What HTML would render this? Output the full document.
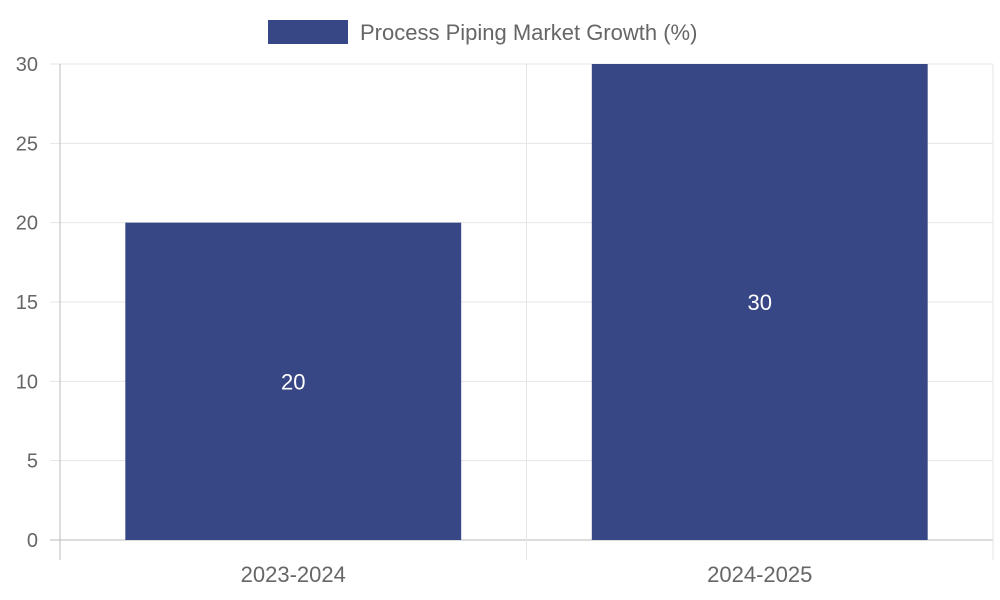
<!DOCTYPE html>
<html><head><meta charset="utf-8"><style>
html,body{margin:0;padding:0;background:#fff;}
svg{display:block;font-family:"Liberation Sans",sans-serif;}
</style></head><body>
<svg id="chart" width="1000" height="600">
<g id="legend">
<rect x="268" y="20" width="80" height="24" fill="#374785"/>
<text x="360" y="40" font-size="22" fill="#666">Process Piping Market Growth (%)</text>
</g>
<g id="grid"></g><g id="bars"></g><g id="labels"></g>
</svg>
<script>
const categories = ["2023-2024", "2024-2025"];
const values = [20, 30];
const yTicks = [0, 5, 10, 15, 20, 25, 30];
const NS = "http://www.w3.org/2000/svg";
const L = 60, R = 993, T = 64, B = 540, yMax = 30;
const y = v => B - (v / yMax) * (B - T);
const bw = (R - L) / categories.length;
const x = i => L + bw * i;
function mk(tag, attrs, parent, text) {
  const e = document.createElementNS(NS, tag);
  for (const k in attrs) e.setAttribute(k, attrs[k]);
  if (text !== undefined) e.textContent = text;
  parent.appendChild(e);
  return e;
}
const grid = document.getElementById("grid");
const bars = document.getElementById("bars");
const labels = document.getElementById("labels");
yTicks.forEach(t => {
  const ln = mk("line", {x1: L - 10, x2: R, y1: y(t), y2: y(t), stroke: t === 0 ? "#bbb" : "#e5e5e5", "stroke-width": 1}, grid);
  
  
  const tx = mk("text", {x: L - 22, y: y(t) + 7, "font-size": 20, fill: "#666", "text-anchor": "end"}, labels, String(t));
  
  
});
for (let i = 0; i <= categories.length; i++) {
  const ln = mk("line", {x1: x(i), x2: x(i), y1: T, y2: B + 20, stroke: i === 0 ? "#bbb" : "#e5e5e5", "stroke-width": 1}, grid);
  
  
}
categories.forEach((c, i) => {
  const w = bw * 0.72;
  const bx = x(i) + (bw - w) / 2;
  const r = mk("rect", {x: bx, y: y(values[i]), width: w, height: B - y(values[i]), fill: "#374785"}, bars);
  
  
  const vl = mk("text", {x: bx + w / 2, y: (y(values[i]) + B) / 2 + 8, "font-size": 22, fill: "#fff", "text-anchor": "middle"}, labels, String(values[i]));
  
  
  const cl = mk("text", {x: x(i) + bw / 2, y: 582, "font-size": 22, fill: "#666", "text-anchor": "middle"}, labels, c);
  
  
});
</script>
</body></html>
